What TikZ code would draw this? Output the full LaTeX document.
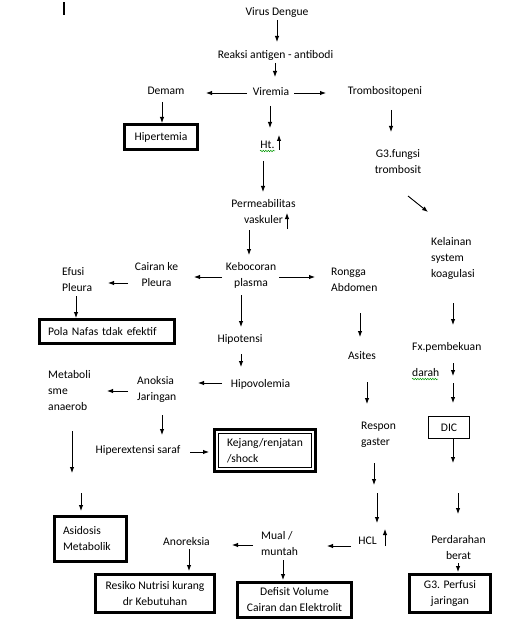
\documentclass[tikz,border=0pt]{standalone}
\usepackage{fontspec}
\setmainfont{Carlito}
\usetikzlibrary{arrows.meta,decorations.pathmorphing}
\newcommand\dgfont{\fontsize{11.6}{16}\selectfont}
\tikzset{
 lbl/.style={inner sep=0pt, font=\dgfont, text height=10pt, text depth=0.5pt},
 ml/.style={inner sep=0pt, font=\dgfont, align=center},
 mll/.style={inner sep=0pt, font=\dgfont, align=left, anchor=west},
 box/.style={draw, line width=2.8pt, inner sep=0pt, outer sep=0pt, font=\dgfont, align=center},
 arr/.style={-{Latex[length=6pt,width=4.5pt]}, line width=0.9pt},
 squig/.style={draw=green!60!black, decorate, decoration={snake, amplitude=0.7pt, segment length=2.5pt}, line width=0.5pt}
}
\begin{document}
\begin{tikzpicture}[x=1pt,y=-1pt]
\fill[white] (0,0) rectangle (528,628);
\useasboundingbox (0,0) rectangle (528,628);
\node[fill=black, minimum width=2pt, minimum height=13pt, inner sep=0pt] (cursor) at (63.5,8.5) {};
% nodes
\node[lbl] (virus) at (277,11) {Virus Dengue};
\node[lbl] (reaksi) at (275.5,54) {Reaksi antigen - antibodi};
\node[lbl] (viremia) at (271,91) {Viremia};
\node[lbl] (demam) at (166,90) {Demam};
\node[lbl] (trombo) at (385,90) {Trombositopeni};
\node[box, minimum width=73.2pt, minimum height=25.2pt] (hiper) at (161,137) {Hipertemia};
\node[lbl] (ht) at (267.5,144) {Ht.};
\node[ml] (perm) at (263.5,212) {Permeabilitas\\vaskuler};
\node[ml] (g3f) at (398,162) {G3.fungsi\\trombosit};
\node[mll] (kelainan) at (431,258) {Kelainan\\system\\koagulasi};
\node[ml] (kebocoran) at (251,275) {Kebocoran\\plasma};
\node[ml] (cairan) at (156.5,275) {Cairan ke\\Pleura};
\node[mll] (efusi) at (62,280) {Efusi\\Pleura};
\node[box, minimum width=135.2pt, minimum height=24.2pt, text width=118pt, align=left] (pola) at (107,331.5) {Pola Nafas tdak efektif};
\node[mll] (rongga) at (331,280) {Rongga\\Abdomen};
\node[lbl] (asites) at (362,355) {Asites};
\node[lbl, anchor=west] (fx) at (412,346) {Fx.pembekuan};
\node[lbl, anchor=west] (darah) at (412,372) {darah};
\node[box, line width=0.9pt, minimum width=41pt, minimum height=22pt] (dic) at (449,427.5) {DIC};
\node[lbl] (hipotensi) at (240,338) {Hipotensi};
\node[lbl] (hipovolemia) at (260.5,383) {Hipovolemia};
\node[mll] (metab) at (48,391) {Metaboli\\sme\\anaerob};
\node[mll] (anoksia) at (137,389.5) {Anoksia\\Jaringan};
\node[lbl] (hiperext) at (138,449) {Hiperextensi saraf};
\node[box, minimum width=101.2pt, minimum height=42.2pt, align=left] (kejang) at (265,450.5) {Kejang/renjatan\\/shock};
\draw[line width=0.8pt] ([shift={(4.1,-4.1)}]kejang.south west) rectangle ([shift={(-4.1,4.1)}]kejang.north east);
\node[mll] (respon) at (361,435) {Respon\\gaster};
\node[ml] (perdarahan) at (458.5,548) {Perdarahan\\berat};
\node[box, minimum width=81.2pt, minimum height=38.2pt] (g3p) at (450,593.5) {G3. Perfusi\\jaringan};
\node[box, minimum width=72.2pt, minimum height=45.2pt, text width=55pt, align=left] (asidosis) at (90.5,539) {Asidosis\\Metabolik};
\node[lbl] (anoreksia) at (186.5,541) {Anoreksia};
\node[mll] (mual) at (261,544) {Mual /\\muntah};
\node[lbl] (hcl) at (367.5,540) {HCL};
\node[box, minimum width=119.2pt, minimum height=38.2pt] (resiko) at (155,593.5) {Resiko Nutrisi kurang\\dr Kebutuhan};
\node[box, minimum width=114.2pt, minimum height=35.2pt] (defisit) at (294.5,600) {Defisit Volume\\Cairan dan Elektrolit};
% spell-check squiggles
\draw[squig] ([shift={(-7.5,7)}]ht.center) -- ([shift={(7.5,7)}]ht.center);
\draw[squig] ([shift={(0,7)}]darah.west) -- ([shift={(26,7)}]darah.west);
% arrows
\draw[arr] ([shift={(0,9)}]virus.center) -- ([shift={(1.5,-12)}]reaksi.center);
\draw[arr] ([shift={(-0.5,9)}]reaksi.center) -- ([shift={(4,-14)}]viremia.center);
\draw[arr] ([shift={(-24,2)}]viremia.center) -- ([shift={(40,3)}]demam.center);
\draw[arr] ([shift={(23,2)}]viremia.center) -- ([shift={(-59,3)}]trombo.center);
\draw[arr] ([shift={(-4,12)}]demam.center) -- ([shift={(1,-14)}]hiper.center);
\draw[arr] ([shift={(-1,15)}]viremia.center) -- ([shift={(2.5,-16)}]ht.center);
\draw[arr] ([shift={(11.5,6)}]ht.center) -- ([shift={(11.5,-9)}]ht.center);
\draw[arr] ([shift={(-4.5,17)}]ht.center) -- ([shift={(-0.5,-20)}]perm.center);
\draw[arr] ([shift={(23.5,17)}]perm.center) -- ([shift={(23.5,1)}]perm.center);
\draw[arr] ([shift={(6,20)}]trombo.center) -- ([shift={(-7,-30)}]g3f.center);
\draw[arr] ([shift={(10,34)}]g3f.center) -- ([shift={(-3,-46)}]kelainan.west);
\draw[arr] ([shift={(22,45)}]kelainan.west) -- ([shift={(41,-21)}]fx.west);
\draw[arr] ([shift={(41,17)}]fx.west) -- ([shift={(41,4)}]darah.west);
\draw[arr] ([shift={(41,11)}]darah.west) -- ([shift={(4,-24.5)}]dic.center);
\draw[arr] ([shift={(4,11.5)}]dic.center) -- ([shift={(-5.5,-85)}]perdarahan.center);
\draw[arr] ([shift={(9,65.5)}]dic.center) -- ([shift={(-0.5,-34)}]perdarahan.center);
\draw[arr] ([shift={(-0.5,15)}]perdarahan.center) -- ([shift={(8,-21.5)}]g3p.center);
\draw[arr] ([shift={(-14.5,18)}]perm.center) -- ([shift={(-2,-20)}]kebocoran.center);
\draw[arr] ([shift={(-29,2)}]kebocoran.center) -- ([shift={(37.5,2)}]cairan.center);
\draw[arr] ([shift={(28,2)}]kebocoran.center) -- ([shift={(-16,-3)}]rongga.west);
\draw[arr] ([shift={(-28.5,8)}]cairan.center) -- ([shift={(46,3)}]efusi.west);
\draw[arr] ([shift={(14,16)}]efusi.west) -- ([shift={(-31,-13.5)}]pola.center);
\draw[arr] ([shift={(-10,20)}]kebocoran.center) -- ([shift={(1,-11)}]hipotensi.center);
\draw[arr] ([shift={(1,16)}]hipotensi.center) -- ([shift={(-19.5,-16)}]hipovolemia.center);
\draw[arr] ([shift={(-38.5,0)}]hipovolemia.center) -- ([shift={(61,-6.5)}]anoksia.west);
\draw[arr] ([shift={(-9,1.5)}]anoksia.west) -- ([shift={(59,0)}]metab.west);
\draw[arr] ([shift={(25,25.5)}]anoksia.west) -- ([shift={(24,-14)}]hiperext.center);
\draw[arr] ([shift={(52,3)}]hiperext.center) -- ([shift={(-56,1.5)}]kejang.center);
\draw[arr] ([shift={(24,40)}]metab.west) -- ([shift={(-18.5,-66)}]asidosis.center);
\draw[arr] ([shift={(33,102)}]metab.west) -- ([shift={(-9.5,-28)}]asidosis.center);
\draw[arr] ([shift={(29,33)}]rongga.west) -- ([shift={(-2,-18)}]asites.center);
\draw[arr] ([shift={(5,27)}]asites.center) -- ([shift={(6,-31)}]respon.west);
\draw[arr] ([shift={(13,28)}]respon.west) -- ([shift={(6.5,-55)}]hcl.center);
\draw[arr] ([shift={(16,58)}]respon.west) -- ([shift={(9.5,-17)}]hcl.center);
\draw[arr] ([shift={(17.5,6)}]hcl.center) -- ([shift={(17.5,-11)}]hcl.center);
\draw[arr] ([shift={(-16.5,6)}]hcl.center) -- ([shift={(66,2)}]mual.west);
\draw[arr] ([shift={(-8,1)}]mual.west) -- ([shift={(45.5,4)}]anoreksia.center);
\draw[arr] ([shift={(22,16)}]mual.west) -- ([shift={(-11.5,-20)}]defisit.center);
\draw[arr] ([shift={(2.5,8)}]anoreksia.center) -- ([shift={(34,-22.5)}]resiko.center);
\end{tikzpicture}
\end{document}
